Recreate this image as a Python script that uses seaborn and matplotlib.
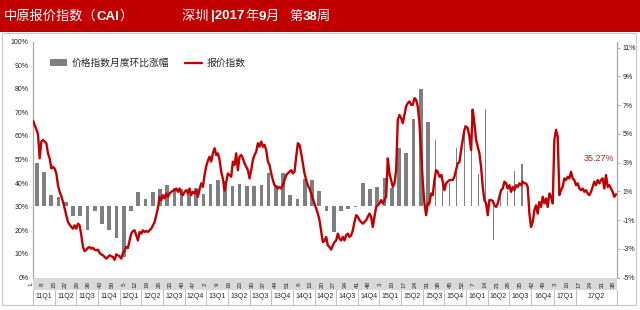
import numpy as np
import pandas as pd
import seaborn as sns
import matplotlib.pyplot as plt
from matplotlib.patches import Rectangle, Patch
from matplotlib.lines import Line2D

# ---------------- data ----------------
index_vals = [
    66.5, 64.7, 62.8, 60.8, 50.5, 57.6, 58.3, 57.6, 56.9, 52.6,
    50.5, 46.2, 46.9, 46.2, 44.1, 39.1, 36.3, 34.5, 32.1, 29.2,
    26.4, 23.5, 22.4, 21.4, 20.7, 22.1, 20.7, 22.8, 22.1, 17.9,
    12.9, 11.2, 11.8, 12.6, 12.9, 12.2, 12.6, 11.8, 11.5, 11.8,
    10.4, 9.8, 9.4, 8.7, 8.0, 8.7, 9.4, 9.0, 8.7, 7.5,
    9.8, 9.4, 9.0, 8.0, 10.4, 11.5, 13.0, 12.5, 15.7, 18.6,
    19.7, 20.0, 17.9, 15.7, 19.3, 18.6, 20.0, 19.3, 19.7, 19.3,
    20.0, 20.7, 22.1, 23.5, 26.4, 29.5, 34.2, 32.8, 34.9, 33.5,
    35.6, 34.2, 35.6, 36.3, 36.7, 37.0, 37.7, 36.3, 37.7, 35.6,
    34.9, 36.3, 37.0, 35.6, 37.7, 34.9, 36.3, 35.6, 37.0, 34.2,
    37.4, 39.9, 38.4, 43.4, 47.2, 49.5, 51.2, 49.1, 52.6, 54.8,
    51.9, 52.6, 49.8, 44.8, 41.8, 36.8, 40.5, 44.1, 43.4, 42.7,
    49.1, 47.7, 52.6, 45.5, 51.2, 51.9, 50.5, 48.4, 46.9, 45.5,
    42.0, 45.5, 49.8, 51.9, 53.3, 56.9, 55.4, 57.6, 55.4, 56.2,
    54.0, 49.1, 47.7, 44.1, 41.3, 39.1, 38.4, 37.7, 38.4, 37.7,
    39.1, 41.3, 43.4, 44.1, 44.8, 45.5, 44.1, 44.8, 51.2, 56.9,
    56.2, 52.6, 48.4, 44.1, 41.3, 39.1, 37.7, 35.6, 33.5, 31.4,
    29.2, 27.1, 24.3, 19.5, 15.0, 15.5, 17.2, 13.6, 12.9, 11.8,
    13.6, 15.0, 15.7, 18.6, 16.5, 15.7, 17.2, 15.7, 17.9, 18.6,
    17.2, 17.9, 20.0, 23.5, 26.4, 25.7, 24.3, 23.5, 22.8, 23.5,
    24.3, 25.7, 27.1, 25.7, 21.4, 25.7, 29.9, 30.6, 31.4, 32.8,
    31.4, 32.8, 34.2, 50.5, 44.1, 41.3, 38.4, 39.9, 45.5, 66.8,
    68.9, 67.5, 65.4, 68.9, 72.5, 73.9, 74.6, 73.2, 73.2, 76.0,
    75.3, 72.5, 65.4, 53.3, 40.6, 31.4, 26.4, 31.4, 31.4, 35.6,
    34.9, 41.3, 45.5, 44.8, 42.7, 43.4, 40.6, 37.0, 39.9, 40.6,
    41.3, 41.3, 41.3, 42.7, 45.5, 48.4, 48.9, 54.0, 58.3, 62.6,
    64.0, 63.3, 59.7, 54.0, 71.1, 65.4, 58.3, 55.4, 52.6, 46.9,
    38.4, 32.8, 31.4, 26.4, 32.8, 32.8, 32.4, 30.6, 29.9, 31.4,
    34.2, 37.0, 37.7, 40.6, 40.0, 37.7, 39.1, 36.3, 38.4, 37.0,
    39.1, 38.4, 39.9, 39.1, 40.6, 39.9, 39.9, 38.4, 27.1, 21.4,
    23.5, 28.5, 30.6, 27.1, 32.0, 29.9, 34.2, 31.4, 33.5, 29.9,
    35.6, 34.2, 31.4, 58.3, 62.6, 59.7, 34.9, 37.0, 38.4, 42.0,
    41.3, 42.7, 42.0, 44.8, 42.0, 41.3, 39.1, 39.9, 37.7, 37.0,
    37.7, 36.3, 37.0, 35.6, 34.9, 36.3, 38.4, 40.6, 39.1, 41.3,
    39.9, 41.3, 42.0, 37.7, 43.4, 38.4, 39.1, 37.7, 36.3, 34.2,
    35.27,
]

monthly_change = [
    2.94, 2.36, 0.77, 0.60, 0.23, -0.75, -0.75, -1.72, -0.40, -1.28, -1.72, -2.26,
    -3.54, -0.40, 0.96, 0.49, 0.96, 1.19, 1.42, 1.24, 1.19, 1.19, 1.24, 0.84,
    1.52, 1.75, 1.70, 1.35, 1.54, 1.35, 1.35, 1.42, 2.29, 1.47, 2.29, 0.77,
    0.49, 1.82, 1.77, 1.05, -0.40, -1.80, -0.40, -0.23, -0.10, 1.59, 1.19, 1.31,
    1.94, 1.24, 4.03, 3.68, 6.01, 8.10, 5.83, 4.60, 2.17, 1.59, 4.03, 5.60,
    6.70, 2.17, 6.70, -2.38, 1.00, 1.00, 2.40, 2.87,
]

year_weeks = [52, 52, 52, 52, 52, 53, 38]

week_labels = [
    "1", "8", "15", "22", "29", "36", "43", "50",
    "5", "12", "19", "26", "33", "40", "47",
    "2", "9", "16", "23", "30", "37", "44", "51",
    "6", "13", "20", "27", "34", "41", "48",
    "3", "10", "17", "24", "31", "38", "45", "52",
    "7", "14", "21", "28", "35", "42", "49",
    "3", "10", "17", "24", "31", "38",
]

quarter_labels = [
    "11Q1", "11Q2", "11Q3", "11Q4", "12Q1", "12Q2", "12Q3", "12Q4",
    "13Q1", "13Q2", "13Q3", "13Q4", "14Q1", "14Q2", "14Q3", "14Q4",
    "15Q1", "15Q2", "15Q3", "15Q4", "16Q1", "16Q2", "16Q3", "16Q4",
    "17Q1", "17Q2",
]

last_label = "35.27%"
legend_bar = "价格指数月度环比涨幅"
legend_line = "报价指数"

# ---------------- style ----------------
sns.set_style("white")
plt.rcParams['font.family'] = ['Noto Sans CJK SC', 'DejaVu Sans']

W, H = 640, 310
def fx(px): return px / W
def fy(py): return 1 - py / H

AX_L, AX_R, AX_T, AX_B = 33, 617, 41.5, 277.5
def ya(py): return (AX_B - py) / (AX_B - AX_T)

RED = '#c00000'
GRAY = '#7f7f7f'

fig = plt.figure(figsize=(6.4, 3.1), dpi=100, facecolor='white')

# title bar and outer frame
fig.patches.append(Rectangle((0, fy(32)), 1, 32 / H, transform=fig.transFigure,
                             facecolor=RED, edgecolor='none', zorder=0))
fig.patches.append(Rectangle((fx(2), fy(305)), fx(636) - fx(2), (305 - 33) / H,
                             transform=fig.transFigure, fill=False,
                             edgecolor='#c8c8c8', lw=0.9, zorder=0))

renderer = fig.canvas.get_renderer()
def chain(x0, pieces):
    x = x0
    for txt, bold in pieces:
        t = fig.text(fx(x), fy(16.5), txt, color='white', fontsize=9.5,
                     fontweight='bold' if bold else 'normal', va='center', ha='left',
                     family=['Liberation Sans', 'Noto Sans CJK SC'] if bold else ['Noto Sans CJK SC', 'DejaVu Sans'])
        x += t.get_window_extent(renderer).width

chain(4, [("中原报价指数（", False), ("CAI", True), ("）", False)])
chain(182, [("深圳 ", False), ("|2017", True), ("年", False), ("9", True), ("月", False)])
chain(289, [("第", False), ("38", True), ("周", False)])

# axes
ax = fig.add_axes([fx(AX_L), fy(AX_B), fx(AX_R) - fx(AX_L), fy(AX_T) - fy(AX_B)])
ax2 = ax.twinx()

n = len(index_vals)
weeks = np.arange(n)
df_line = pd.DataFrame({"week": weeks, "index": index_vals})

# bars on right axis (monthly change)
m = np.arange(len(monthly_change))
bar_pos = (m * 365.25 / 12 + 16) / 7
bar_w = np.where(m < 55, 2.2, 0.7)
ax2.bar(bar_pos, monthly_change, width=bar_w, color=GRAY, linewidth=0, zorder=1)

# line on left axis
sns.lineplot(data=df_line, x="week", y="index", ax=ax, color=RED, lw=1.7, zorder=3)
ax.set_zorder(ax2.get_zorder() + 1)
ax.patch.set_visible(False)

ax.set_xlim(0, 350.6)
ax.set_ylim(0, 100)
ax2.set_ylim(-5, 11.42)

ax.set_xlabel("")
ax.set_ylabel("")
ax.set_xticks([])
ax.set_yticks(np.arange(0, 101, 10))
ax.set_yticklabels([f"{v}%" for v in range(0, 101, 10)], fontsize=5,
                   family=['Liberation Sans', 'DejaVu Sans'])
ax2.set_yticks(np.arange(-5, 12, 2))
ax2.set_yticklabels([f"{v}%" for v in range(-5, 12, 2)], fontsize=5,
                    family=['Liberation Sans', 'DejaVu Sans'])
ax.tick_params(axis='y', length=0, pad=3, colors='#222222')
ax2.tick_params(axis='y', length=2, pad=2, colors='#222222', color='#a0a0a0', width=0.6)

for a in (ax, ax2):
    for s in ('top', 'bottom'):
        a.spines[s].set_visible(False)
    a.spines['left'].set_color('#a8a8a8')
    a.spines['right'].set_color('#a8a8a8')
    a.spines['left'].set_linewidth(0.8)
    a.spines['right'].set_linewidth(0.8)

# week label band
trans = ax.get_xaxis_transform()
ax.add_patch(Rectangle((0, ya(290)), 350.6, ya(AX_B) - ya(290), transform=trans,
                       facecolor='#d9d9d9', edgecolor='none', clip_on=False, zorder=0))
for k, lab in enumerate(week_labels):
    ax.text(7 * k - 1.5, ya(284), lab, transform=trans, rotation=90, ha='center',
            va='center', fontsize=4.6, family=['Liberation Sans', 'DejaVu Sans'],
            color='#222222', clip_on=False)

# quarter row
starts = []
acc = 0
for yw in year_weeks:
    for q in range(4):
        if acc + 13 * q < acc + yw:
            starts.append(acc + 13 * q)
    acc += yw
starts = starts[:len(quarter_labels)]
edges = starts + [350.6]
for i, lab in enumerate(quarter_labels):
    x0, x1 = edges[i], edges[i + 1]
    ax.text((x0 + x1) / 2, ya(297), lab, transform=trans, ha='center', va='center',
            fontsize=5, family=['Liberation Sans', 'DejaVu Sans'], color='#222222',
            clip_on=False)
for e in edges:
    ax.add_line(Line2D([e, e], [ya(290), ya(304)], transform=trans, color='#bdbdbd',
                       lw=0.7, clip_on=False))

# last value annotation
ax.text(349, 50.3, last_label, ha='right', va='center', fontsize=6.5,
        color='#b22222', family=['Liberation Sans', 'DejaVu Sans'])

# legend
handles = [Patch(facecolor=GRAY, edgecolor='none'), Line2D([], [], color=RED, lw=1.7)]
fig.legend(handles, [legend_bar, legend_line], loc='center left',
           bbox_to_anchor=(fx(41), fy(63)), ncol=2, frameon=False, fontsize=7,
           handlelength=1.8, handleheight=0.6, columnspacing=1.6, handletextpad=0.45)

fig.savefig("out.png", dpi=100, facecolor='white')
